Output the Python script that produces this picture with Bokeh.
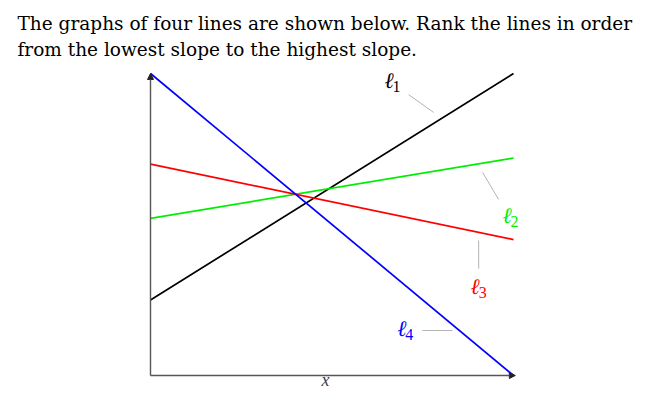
from bokeh.plotting import figure
from bokeh.models import Range1d, Label, Arrow, NormalHead, ColumnDataSource
from bokeh.core.properties import value
from bokeh.embed import file_html
from bokeh.resources import INLINE

# ---- data ----
line_names = ["1", "2", "3", "4"]
line_colors = ["#000000", "#00ee00", "#ff0000", "#0000ff"]
x_start = [0, 0, 0, 0]
x_end = [10, 10, 10, 10]
y_start = [2.5, 5.2, 7.0, 10.0]
y_end = [10.0, 7.2, 4.5, 0.0]

label_x = [6.67, 9.92, 9.04, 7.02]
label_y = [9.77, 5.30, 2.95, 1.56]
leader_x0 = [7.11, 9.15, 9.04, 7.49]
leader_y0 = [9.30, 6.72, 4.47, 1.49]
leader_x1 = [7.80, 9.59, 9.04, 8.32]
leader_y1 = [8.71, 5.83, 3.54, 1.49]

title_lines = [
    "The graphs of four lines are shown below. Rank the lines in order",
    "from the lowest slope to the highest slope.",
]
x_axis_label = "x"

W, H = 643, 390
p = figure(width=W, height=H, output_backend="svg", toolbar_location=None,
           x_range=Range1d(-4.132, 13.581), y_range=Range1d(-0.4967, 12.417),
           min_border=0)
p.axis.visible = False
p.grid.visible = False
p.outline_line_color = None
p.background_fill_color = "white"

# axes with arrows
axis_col = "#555555"
for xe, ye in [(0, 10.0), (10.05, 0)]:
    p.add_layout(Arrow(end=NormalHead(size=6, line_color="#222222", line_width=1,
                                      fill_color="#222222"),
                       x_start=0, y_start=0, x_end=xe, y_end=ye,
                       line_color=axis_col, line_width=1.4))

# lines
src = ColumnDataSource(dict(x0=x_start, y0=y_start, x1=x_end, y1=y_end, c=line_colors))
p.segment("x0", "y0", "x1", "y1", source=src, line_color="c", line_width=1.7)

# leader lines
lsrc = ColumnDataSource(dict(x0=leader_x0, y0=leader_y0, x1=leader_x1, y1=leader_y1))
p.segment("x0", "y0", "x1", "y1", source=lsrc, line_color="#b4b4b4", line_width=1)

# labels
lab = ColumnDataSource(dict(x=label_x, y=label_y, t=["ℓ"] * 4, n=line_names, c=line_colors))
p.text("x", "y", text="t", source=lab, text_color="c", text_font=value("DejaVu Serif"),
       text_font_style="italic", text_font_size="22px", text_align="right",
       text_baseline="middle", x_offset=1)
p.text("x", "y", text="n", source=lab, text_color="c", text_font=value("Liberation Serif"),
       text_font_size="16px", text_align="left", text_baseline="middle", x_offset=0, y_offset=6)

p.add_layout(Label(x=4.82, y=-0.14, text=x_axis_label, text_font="Liberation Serif",
                   text_font_style="italic", text_font_size="18px", text_align="center",
                   text_baseline="middle"))

# title text
for i, t in enumerate(title_lines):
    p.add_layout(Label(x=17, y=H - 23 - 26 * i, x_units="screen", y_units="screen", text=t,
                       text_font="DejaVu Serif", text_font_size="18.5px",
                       text_baseline="alphabetic", text_color="#000000"))

open("out.html", "w").write(file_html(p, INLINE))
